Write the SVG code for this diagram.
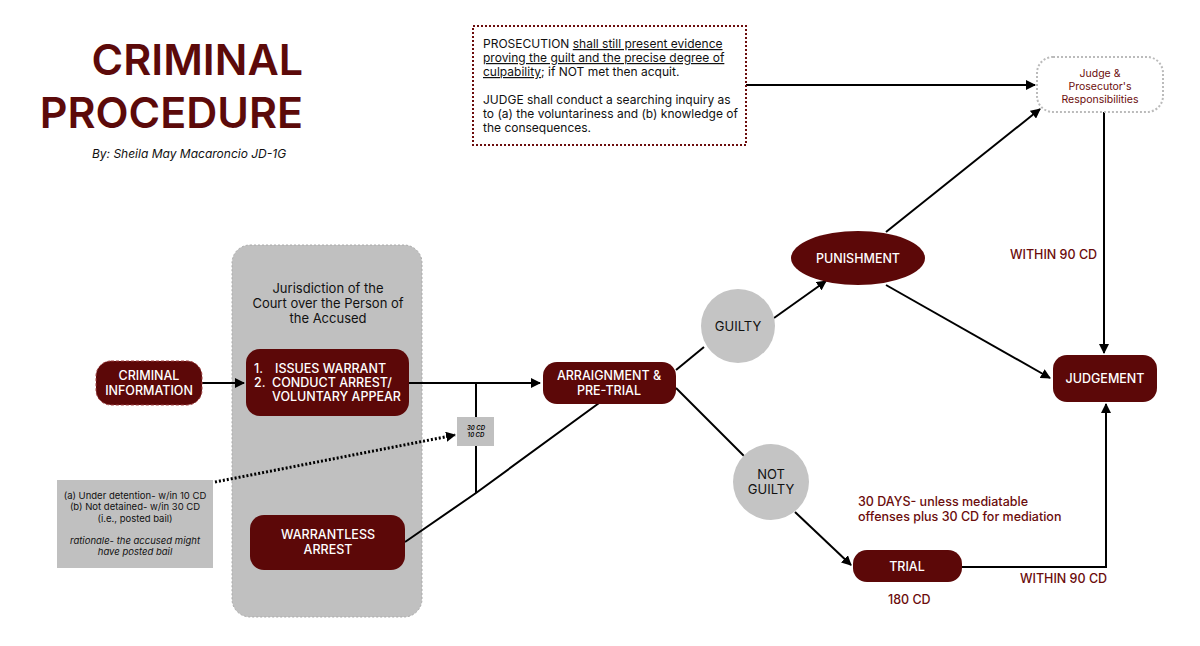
<svg xmlns="http://www.w3.org/2000/svg" width="1200" height="646" viewBox="0 0 1200 646">
<defs>
<style>
text{font-family:"Inter","Liberation Sans",sans-serif}
.n{fill:#5c0808}
.w{fill:#fff;font-size:12.5px;font-weight:500;text-anchor:middle}
.k{fill:#111;font-size:13px;text-anchor:middle}
.m{fill:#6b0c0c;font-size:12.5px;font-weight:500}
.l{stroke:#000;stroke-width:2;fill:none}
.g{fill:#c0c0c0}
</style>
<marker id="a" markerWidth="10" markerHeight="10" refX="9" refY="5" orient="auto" markerUnits="userSpaceOnUse"><path d="M0,0L10,5L0,10z" fill="#000"/></marker>
</defs>
<rect width="1200" height="646" fill="#fff"/>
<g id="title">
<text x="303" y="75" text-anchor="end" font-size="43" font-weight="600" fill="#5c0a0a">CRIMINAL</text>
<text x="303" y="128" text-anchor="end" font-size="43" font-weight="600" fill="#5c0a0a">PROCEDURE</text>
<text x="92" y="158" font-size="12" font-style="italic" fill="#111">By: Sheila May Macaroncio JD-1G</text>
</g>
<g id="jurisdiction">
<rect x="232" y="245" width="190" height="372" rx="18" class="g" stroke="#aaa" stroke-dasharray="2 2"/>
<text class="k" x="328" y="293">Jurisdiction of the</text>
<text class="k" x="328" y="308">Court over the Person of</text>
<text class="k" x="328" y="323">the Accused</text>
</g>
<g id="connectors">
<line class="l" x1="202" y1="383" x2="244" y2="383" marker-end="url(#a)"/>
<line class="l" x1="409" y1="383" x2="540" y2="383" marker-end="url(#a)"/>
<line class="l" x1="476" y1="383" x2="476" y2="493"/>
<polyline class="l" points="405,542 476,493 621,387" marker-end="url(#a)"/>
<line stroke="#000" stroke-width="3" stroke-dasharray="2 2" x1="215" y1="482" x2="455" y2="435" marker-end="url(#a)"/>
<line class="l" x1="676" y1="370" x2="704" y2="347"/>
<line class="l" x1="774" y1="318" x2="826" y2="281" marker-end="url(#a)"/>
<line class="l" x1="886" y1="232" x2="1040" y2="109" marker-end="url(#a)"/>
<line class="l" x1="886" y1="285" x2="1050" y2="378" marker-end="url(#a)"/>
<line class="l" x1="676" y1="388" x2="744" y2="456"/>
<line class="l" x1="795" y1="512" x2="851" y2="565" marker-end="url(#a)"/>
<polyline class="l" points="962,567 1106,567 1106,404" marker-end="url(#a)"/>
<line class="l" x1="1104" y1="112" x2="1104" y2="353" marker-end="url(#a)"/>
<line class="l" x1="746" y1="85" x2="1035" y2="85" marker-end="url(#a)"/>
</g>
<g id="criminal-information">
<rect x="96" y="361" width="106" height="44" rx="15" class="n" stroke="#a04040" stroke-dasharray="3 2"/>
<text class="w" x="149" y="380">CRIMINAL</text>
<text class="w" x="149" y="395">INFORMATION</text>
</g>
<g id="warrant" fill="#fff" font-size="12.5" font-weight="500">
<rect x="246" y="349" width="163" height="67" rx="14" class="n"/>
<text x="254" y="373">1.</text><text x="275" y="373">ISSUES WARRANT</text>
<text x="254" y="387">2.</text><text x="272" y="387">CONDUCT ARREST/</text>
<text x="272" y="401">VOLUNTARY APPEAR</text>
</g>
<g id="warrantless">
<rect x="250" y="515" width="155" height="55" rx="14" class="n"/>
<text class="w" x="328" y="539">WARRANTLESS</text>
<text class="w" x="328" y="554">ARREST</text>
</g>
<g id="note">
<rect x="57" y="480" width="156" height="88" class="g"/>
<text x="135" y="499" font-size="9.5" text-anchor="middle" fill="#111">(a) Under detention- w/in 10 CD</text>
<text x="135" y="510" font-size="9.5" text-anchor="middle" fill="#111">(b) Not detained- w/in 30 CD</text>
<text x="135" y="522" font-size="9.5" text-anchor="middle" fill="#111">(i.e., posted bail)</text>
<text x="135" y="544" font-size="9.5" text-anchor="middle" font-style="italic" fill="#111">rationale- the accused might</text>
<text x="135" y="555" font-size="9.5" text-anchor="middle" font-style="italic" fill="#111">have posted bail</text>
</g>
<g id="days-box">
<rect x="457" y="417" width="37" height="29" class="g"/>
<text x="476" y="430" font-size="6" font-style="italic" font-weight="600" text-anchor="middle">30 CD</text>
<text x="476" y="437" font-size="6" font-style="italic" font-weight="600" text-anchor="middle">10 CD</text>
</g>
<g id="arraignment">
<rect x="543" y="362" width="133" height="42" rx="14" class="n"/>
<text class="w" x="609" y="380">ARRAIGNMENT &amp;</text>
<text class="w" x="609" y="395">PRE-TRIAL</text>
</g>
<g id="guilty">
<circle cx="738" cy="326" r="37" fill="#c4c4c4"/>
<text class="k" x="738" y="331">GUILTY</text>
</g>
<g id="not-guilty">
<circle cx="771" cy="482" r="38" fill="#c4c4c4"/>
<text class="k" x="771" y="479">NOT</text>
<text class="k" x="771" y="494">GUILTY</text>
</g>
<g id="punishment">
<ellipse cx="858" cy="258" rx="67" ry="27" class="n"/>
<text class="w" x="858" y="263">PUNISHMENT</text>
</g>
<g id="trial">
<rect x="853" y="550" width="109" height="32" rx="14" class="n"/>
<text class="w" x="907" y="571">TRIAL</text>
</g>
<g id="judgement">
<rect x="1053" y="355" width="104" height="47" rx="14" class="n"/>
<text class="w" x="1105" y="383">JUDGEMENT</text>
</g>
<g id="responsibilities">
<rect x="1037" y="57" width="126" height="55" rx="16" fill="#fff" stroke="#bbb" stroke-width="2" stroke-dasharray="2 2"/>
<text x="1100" y="77" font-size="10.5" text-anchor="middle" fill="#6b0c0c">Judge &amp;</text>
<text x="1100" y="90" font-size="10.5" text-anchor="middle" fill="#6b0c0c">Prosecutor's</text>
<text x="1100" y="103" font-size="10.5" text-anchor="middle" fill="#6b0c0c">Responsibilities</text>
</g>
<g id="prosecution-note">
<rect x="473" y="26" width="273" height="119" fill="#fff" stroke="#6b0c0c" stroke-width="2" stroke-dasharray="2 2"/>
<g font-size="12" fill="#111">
<text x="483" y="48">PROSECUTION <tspan text-decoration="underline">shall still present evidence</tspan></text>
<text x="483" y="62" text-decoration="underline">proving the guilt and the precise degree of</text>
<text x="483" y="76"><tspan text-decoration="underline">culpability</tspan>; if NOT met then acquit.</text>
<text x="483" y="104">JUDGE shall conduct a searching inquiry as</text>
<text x="483" y="118">to (a) the voluntariness and (b) knowledge of</text>
<text x="483" y="132">the consequences.</text>
</g>
</g>
<g id="labels">
<text class="m" x="1010" y="259">WITHIN 90 CD</text>
<text class="m" x="858" y="506">30 DAYS- unless mediatable</text>
<text class="m" x="858" y="521">offenses plus 30 CD for mediation</text>
<text class="m" x="1020" y="583">WITHIN 90 CD</text>
<text class="m" x="888" y="604">180 CD</text>
</g>
</svg>
